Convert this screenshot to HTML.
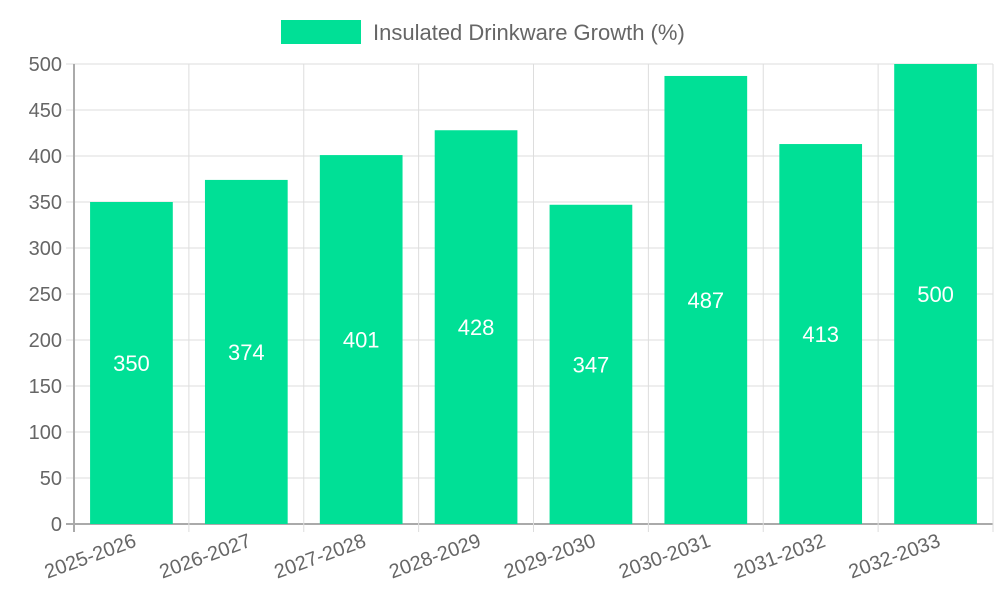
<!DOCTYPE html>
<html><head><meta charset="utf-8"><style>
body{margin:0;background:#fff;}
svg{display:block;font-family:"Liberation Sans",sans-serif;}
</style></head><body>
<svg id="chart" width="1000" height="600">
<g>
<rect x="281" y="20" width="80" height="24" fill="#00e096"></rect>
<text x="373" y="40" font-size="22" fill="#666">Insulated Drinkware Growth (%)</text>
</g>
<g id="grid"></g><g id="bars"></g><g id="axes"></g>
</svg>
<script>
const categories=["2025-2026","2026-2027","2027-2028","2028-2029","2029-2030","2030-2031","2031-2032","2032-2033"];
const values=[350,374,401,428,347,487,413,500];
const yTicks=[0,50,100,150,200,250,300,350,400,450,500];
const NS="http://www.w3.org/2000/svg";
const L=74,R=993,T=64,B=524,yMax=500;
const bw=(R-L)/categories.length;
const y=v=>B-(v/yMax)*(B-T);
const x=i=>L+i*bw;
function mk(t,a,p){const e=document.createElementNS(NS,t);for(const k in a)e.setAttribute(k,a[k]);p.appendChild(e);return e;}
const grid=document.getElementById('grid'),bars=document.getElementById('bars'),axes=document.getElementById('axes');
yTicks.forEach(t=>{
 const l=mk('line',{x1:L-8,x2:R,y1:y(t),y2:y(t),stroke:t===0?'#aaa':'#ddd','stroke-width':t===0?2:1},grid);
 
 
 const tx=mk('text',{x:L-12,y:y(t)+7,'text-anchor':'end','font-size':20,fill:'#666'},axes);
 tx.textContent=t;
 
 
});
for(let i=0;i<=categories.length;i++){
 const l=mk('line',{x1:x(i),x2:x(i),y1:T,y2:B+8,stroke:i===0?'#aaa':'#ddd','stroke-width':i===0?2:1},grid);
 
 
}
categories.forEach((c,i)=>{
 const cx=x(i)+bw/2,w=bw*0.72;
 const r=mk('rect',{x:cx-w/2,y:y(values[i]),width:w,height:B-y(values[i]),fill:'#00e096'},bars);
 
 
 const v=mk('text',{x:cx,y:(y(values[i])+B)/2+8,'text-anchor':'middle','font-size':22,fill:'#fff'},bars);
 v.textContent=values[i];
 
 
 const t=mk('text',{x:cx+6,y:546,'text-anchor':'end','font-size':20,fill:'#666',transform:`rotate(-20 ${cx+6} 546)`},axes);
 t.textContent=c;
 
 
});
</script>
</body></html>
